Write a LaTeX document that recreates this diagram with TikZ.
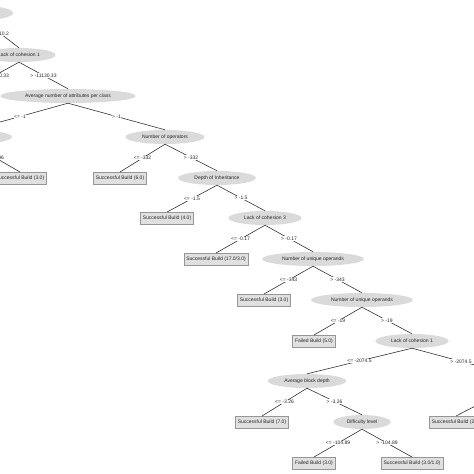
\documentclass[tikz,border=0pt]{standalone}
\usepackage{fontspec}
\setmainfont{Liberation Sans}
\usetikzlibrary{shapes.geometric}
\definecolor{nodegray}{RGB}{218,218,218}
\definecolor{boxgray}{RGB}{224,224,224}
\definecolor{boxline}{RGB}{150,150,150}
\tikzset{
  every node/.style={font=\fontsize{5}{6}\selectfont, text=black!85},
  attr/.style={ellipse, fill=nodegray, inner xsep=5pt, inner ysep=1pt, minimum height=14pt},
  leaf/.style={rectangle, fill=boxgray, draw=boxline, line width=0.5pt, inner xsep=2.5pt, minimum height=11.5pt},
  lab/.style={fill=white, inner sep=0.6pt},
  edge/.style={draw=black!80, line width=0.6pt},
}
\begin{document}
\begin{tikzpicture}[x=1pt,y=-1pt]
\useasboundingbox (0,0) rectangle (474,474);
\clip (0,0) rectangle (474,474);
% nodes
\node[attr, minimum width=60pt] (n0) at (-17,13) {};
\node[attr] (L1a) at (19,55) {Lack of cohesion 1};
\coordinate (c1) at (-30,89);
\node[attr] (A) at (68,96) {Average number of attributes per class};
\node[attr, minimum width=80pt] (LC) at (-28,137) {};
\node[leaf] (B1) at (20,178) {Successful Build (3.0)};
\node[attr] (NO) at (165,137) {Number of operators};
\node[leaf] (S60) at (120,178) {Successful Build (6.0)};
\node[attr] (DI) at (217,178) {Depth of Inheritance};
\node[leaf] (S40) at (167,218) {Successful Build (4.0)};
\node[attr] (L3) at (265,218) {Lack of cohesion 3};
\node[leaf] (S17) at (216,259) {Successful Build (17.0/3.0)};
\node[attr] (NUO1) at (313,259) {Number of unique operands};
\node[leaf] (S30) at (264,300) {Successful Build (3.0)};
\node[attr] (NUO2) at (362,300) {Number of unique operands};
\node[leaf] (F50) at (314,341) {Failed Build (5.0)};
\node[attr] (L1b) at (412,341) {Lack of cohesion 1};
\node[attr] (ABD) at (307,381) {Average block depth};
\coordinate (Rt) at (510,374.5);
\coordinate (Rb) at (510,388);
\node[leaf] (S70) at (262,422) {Successful Build (7.0)};
\node[attr] (DL) at (362,422) {Difficulty level};
\node[leaf] (Sx) at (456,422) {Successful Build (2.0)};
\node[leaf] (F30) at (314,463) {Failed Build (3.0)};
\node[leaf] (S31) at (412,463) {Successful Build (3.0/1.0)};
% edges
\draw[edge] (n0.south) -- node[lab]{> -10.2} (L1a.north);
\draw[edge] (L1a.south) -- node[lab]{<= -11130.33} (c1);
\draw[edge] (L1a.south) -- node[lab]{> -11130.33} (A.north);
\draw[edge] (A.south) -- node[lab]{<= -1} (LC.north);
\draw[edge] (A.south) -- node[lab]{> -1} (NO.north);
\draw[edge] (LC.south) -- node[lab]{> -0.96} (B1.north);
\draw[edge] (NO.south) -- node[lab]{<= -332} (S60.north);
\draw[edge] (NO.south) -- node[lab]{> -332} (DI.north);
\draw[edge] (DI.south) -- node[lab]{<= -1.5} (S40.north);
\draw[edge] (DI.south) -- node[lab]{> -1.5} (L3.north);
\draw[edge] (L3.south) -- node[lab]{<= -0.17} (S17.north);
\draw[edge] (L3.south) -- node[lab]{> -0.17} (NUO1.north);
\draw[edge] (NUO1.south) -- node[lab]{<= -343} (S30.north);
\draw[edge] (NUO1.south) -- node[lab]{> -343} (NUO2.north);
\draw[edge] (NUO2.south) -- node[lab]{<= -19} (F50.north);
\draw[edge] (NUO2.south) -- node[lab]{> -19} (L1b.north);
\draw[edge] (L1b.south) -- node[lab]{<= -2074.5} (ABD.north);
\draw[edge] (L1b.south) -- node[lab]{> -2074.5} (Rt);
\draw[edge] (Rb) -- (Sx.north);
\draw[edge] (ABD.south) -- node[lab]{<= -3.26} (S70.north);
\draw[edge] (ABD.south) -- node[lab]{> -3.26} (DL.north);
\draw[edge] (DL.south) -- node[lab]{<= -104.89} (F30.north);
\draw[edge] (DL.south) -- node[lab]{> -104.89} (S31.north);
\end{tikzpicture}
\end{document}
